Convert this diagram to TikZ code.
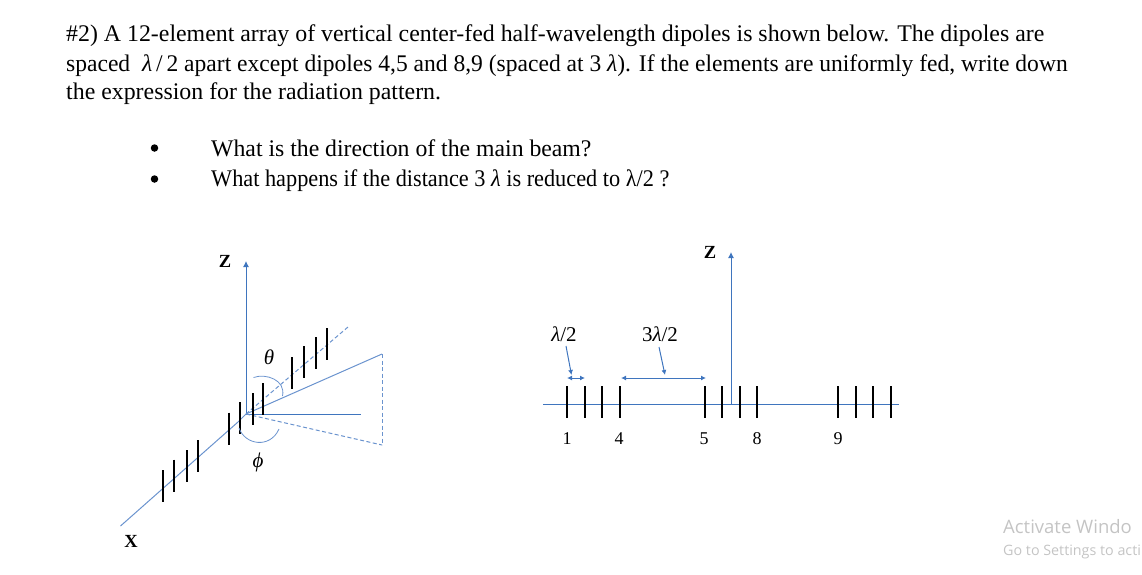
\documentclass[tikz,border=0pt]{standalone}
\usepackage{graphicx}
\usepackage{fontspec}
\setmainfont{Liberation Serif}
\newfontfamily\uifont{Open Sans}
\usetikzlibrary{arrows.meta}
\definecolor{axisblue}{HTML}{3F75BE}
\definecolor{lineblue}{HTML}{6A93CE}
\definecolor{uigray}{HTML}{C4C4C4}
\newcommand{\lam}{\textit{λ}}
\tikzset{
  body/.style={anchor=base west,inner sep=0pt,font=\fontsize{23.85}{24}\selectfont},
  bul/.style={circle,fill=black,inner sep=0pt,minimum size=7.5pt},
  lab/.style={inner sep=0pt,font=\fontsize{21}{21}\selectfont},
  axlab/.style={inner sep=0pt,font=\fontsize{18.5}{18.5}\selectfont\bfseries},
  num/.style={inner sep=0pt,font=\fontsize{18}{18}\selectfont},
  axisline/.style={draw=axisblue,line width=1pt},
  thinblue/.style={draw=lineblue,line width=1pt},
  dashblue/.style={draw=lineblue,line width=1pt,dash pattern=on 4pt off 2.5pt},
  arrowup/.style={axisline,-{Latex[length=6pt,width=6pt]}},
  dblarrow/.style={axisline,{Latex[length=5pt,width=5pt]}-{Latex[length=5pt,width=5pt]}},
  ptr/.style={axisline,-{Latex[length=5pt,width=5pt]}},
  dipole/.style={draw=black,line width=2pt},
  ui/.style={anchor=base west,inner sep=0pt,text=uigray},
}
\begin{document}
\begin{tikzpicture}[x=1pt,y=-1pt]
\useasboundingbox (0,0) rectangle (1142,574);
% text
\node[body] (l1) at (66,41) {\#2) A 12-element array of vertical center-fed half-wavelength dipoles is shown below. The dipoles are};
\node[body] (l2) at (66,71) {\scalebox{.987}[1]{spaced \ \lam\,/\,2 apart except dipoles 4,5 and 8,9 (spaced at 3 \lam). If the elements are uniformly fed, write down}};
\node[body] (l3) at (66,99) {the expression for the radiation pattern.};
\node[bul] (b1) at (154.5,148) {};
\node[bul] (b2) at (154.5,179) {};
\node[body] (q1) at (211,156) {\scalebox{.995}[1]{What is the direction of the main beam?}};
\node[body] (q2) at (211,186) {\scalebox{.935}[1]{What happens if the distance 3 \lam\ is reduced to λ/2 ?}};
% left figure
\coordinate (O) at (246,414);
\coordinate (Ztip) at (246,261);
\coordinate (Xend) at (120.5,526);
\coordinate (Xk) at (238,422);
\coordinate (Yend) at (348,327);
\coordinate (Beam) at (382,354);
\coordinate (Hor) at (361,414);
\coordinate (Foot) at (382,445);
\draw[arrowup] (O) -- (Ztip);
\draw[thinblue] (Xend) -- (Xk) -- (O);
\draw[dashblue] (O) -- (Yend);
\draw[thinblue] (O) -- (Beam);
\draw[axisline] (O) -- (Hor);
\draw[dashblue] (O) -- (Foot);
\draw[dashblue] (Beam) -- (Foot);
\foreach \x/\yt in {163/470,174/459.5,187/450,198/440,229/412.5,240/402,253/393,263/383,292/357,304/346,316/337,327/328}
  \draw[dipole] (\x,\yt) -- ++(0,32);
\draw[thinblue,line width=.8pt] (253.5,377.5) .. controls (266,373) and (286,380) .. (282.5,396);
\draw[thinblue,line width=.8pt] (239,428) .. controls (245,445) and (270,449) .. (279,429);
\node[lab] (theta) at (269,357) {\textit{θ}};
\node[lab] (phi) at (258,462) {\textit{ϕ}};
\node[axlab] (zl) at (225,261) {Z};
\node[axlab] (xl) at (131,541) {X};
% right figure
\coordinate (A) at (543,404);
\coordinate (B) at (899,404);
\coordinate (C) at (731,404);
\coordinate (D) at (731,252);
\draw[axisline] (A) -- (B);
\draw[arrowup] (C) -- (D);
\foreach \x in {567,585,602,620,705,722,740,757,838,856,873,891}
  \draw[dipole] (\x,386) -- (\x,418);
\coordinate (a1) at (567,378);
\coordinate (a2) at (585,378);
\coordinate (a3) at (621,378);
\coordinate (a4) at (706,378);
\draw[dblarrow] (a1) -- (a2);
\draw[dblarrow] (a3) -- (a4);
\coordinate (p1) at (566,346);
\coordinate (p2) at (571.5,375);
\coordinate (p3) at (659,347);
\coordinate (p4) at (665,375);
\draw[ptr] (p1) -- (p2);
\draw[ptr] (p3) -- (p4);
\node[lab] (hl) at (564,334) {\lam/2};
\node[lab] (hl3) at (660,334) {3\lam/2};
\node[num] (n1) at (567,438.5) {1};
\node[num] (n4) at (619,438.5) {4};
\node[num] (n5) at (704,438.5) {5};
\node[num] (n8) at (757,438.5) {8};
\node[num] (n9) at (838,438.5) {9};
\node[axlab] (zr) at (710,252) {Z};
% watermark
\node[ui,font=\uifont\fontsize{18.5}{18.5}\selectfont] (w1) at (1003,533) {Activate Windo};
\node[ui,font=\uifont\fontsize{14.3}{14.3}\selectfont] (w2) at (1003,555) {Go to Settings to acti};
\end{tikzpicture}
\end{document}
